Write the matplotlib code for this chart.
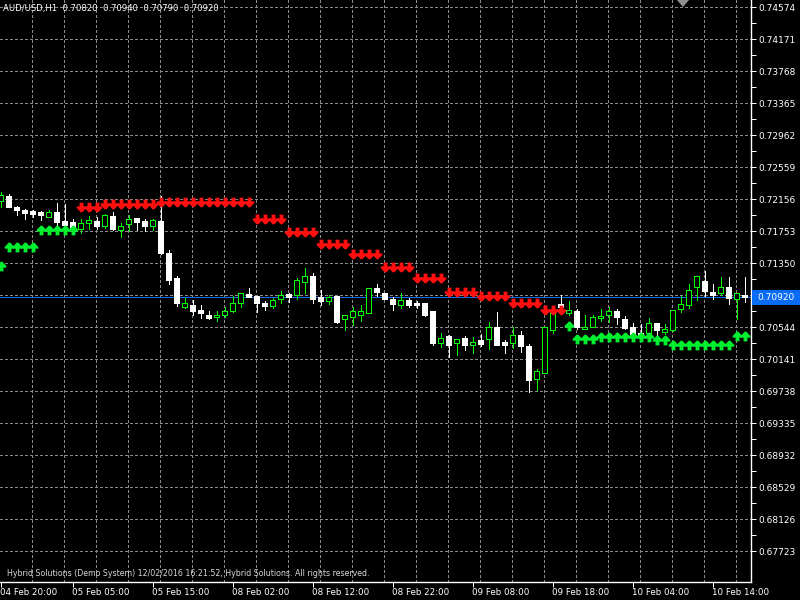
import matplotlib
matplotlib.use('Agg')
import matplotlib.pyplot as plt
from matplotlib.patches import Rectangle, Polygon
from matplotlib.path import Path
from matplotlib.transforms import blended_transform_factory

# ---------------- data ----------------
symbol_header = "AUD/USD,H1  0.70820  0.70940  0.70790  0.70920"
copyright_text = "Hybrid Solutions (Demo System) 12/02/2016 16:21:52, Hybrid Solutions. All rights reserved."
current_price = 0.70920

opens = [0.72138, 0.72198, 0.72055, 0.72021, 0.72009, 0.71996, 0.71937, 0.71996, 0.71886, 0.71870,
         0.71786, 0.71854, 0.71886, 0.71820, 0.71946, 0.71769, 0.71845, 0.71920, 0.71886, 0.71820,
         0.71879, 0.71483, 0.71165, 0.70803, 0.70821, 0.70762, 0.70703, 0.70677, 0.70695, 0.70753,
         0.70854, 0.70963, 0.70938, 0.70854, 0.70812, 0.70897, 0.70963, 0.70947, 0.71114, 0.71190,
         0.70922, 0.70879, 0.70938, 0.70645, 0.70677, 0.70703, 0.70728, 0.71039, 0.70972, 0.70904,
         0.70829, 0.70888, 0.70854, 0.70846, 0.70745, 0.70350, 0.70434, 0.70342, 0.70409, 0.70317,
         0.70384, 0.70400, 0.70552, 0.70359, 0.70342, 0.70451, 0.70308, 0.69897, 0.69972, 0.70510,
         0.70837, 0.70728, 0.70753, 0.70519, 0.70552, 0.70661, 0.70703, 0.70745, 0.70645, 0.70552,
         0.70476, 0.70476, 0.70594, 0.70485, 0.70510, 0.70778, 0.70829, 0.71048, 0.71131, 0.70989,
         0.70972, 0.71048, 0.70897, 0.70947]

highs = [0.72248, 0.72223, 0.72072, 0.72038, 0.72015, 0.72012, 0.72021, 0.72113, 0.72097, 0.71912,
         0.71912, 0.71946, 0.71937, 0.71965, 0.71996, 0.71861, 0.71962, 0.71925, 0.71912, 0.71908,
         0.72198, 0.71517, 0.71190, 0.70913, 0.70888, 0.70821, 0.70745, 0.70745, 0.70803, 0.70938,
         0.70975, 0.71039, 0.70940, 0.70879, 0.70913, 0.70997, 0.70972, 0.71165, 0.71291, 0.71224,
         0.71014, 0.70947, 0.70940, 0.70697, 0.70803, 0.70821, 0.71042, 0.71089, 0.70980, 0.70922,
         0.70972, 0.70913, 0.70879, 0.70848, 0.70747, 0.70468, 0.70451, 0.70402, 0.70434, 0.70418,
         0.70459, 0.70611, 0.70737, 0.70384, 0.70544, 0.70494, 0.70333, 0.70015, 0.70546, 0.70753,
         0.70955, 0.70879, 0.70778, 0.70703, 0.70703, 0.70778, 0.70803, 0.70770, 0.70686, 0.70594,
         0.70586, 0.70661, 0.70596, 0.70586, 0.70764, 0.70938, 0.71089, 0.71192, 0.71257, 0.71089,
         0.71182, 0.71182, 0.70975, 0.71182]

lows = [0.72059, 0.72059, 0.71962, 0.71912, 0.71929, 0.71895, 0.71935, 0.71820, 0.71830, 0.71782,
        0.71735, 0.71786, 0.71778, 0.71795, 0.71769, 0.71685, 0.71761, 0.71769, 0.71753, 0.71769,
        0.71467, 0.71089, 0.70812, 0.70787, 0.70703, 0.70661, 0.70652, 0.70627, 0.70669, 0.70737,
        0.70803, 0.70926, 0.70737, 0.70762, 0.70787, 0.70854, 0.70863, 0.70904, 0.70980, 0.70854,
        0.70829, 0.70837, 0.70602, 0.70510, 0.70569, 0.70627, 0.70720, 0.70938, 0.70897, 0.70762,
        0.70787, 0.70803, 0.70787, 0.70686, 0.70325, 0.70292, 0.70174, 0.70199, 0.70258, 0.70224,
        0.70308, 0.70275, 0.70323, 0.70224, 0.70283, 0.70233, 0.69729, 0.69754, 0.69965, 0.70468,
        0.70787, 0.70703, 0.70526, 0.70517, 0.70544, 0.70627, 0.70611, 0.70586, 0.70519, 0.70434,
        0.70426, 0.70426, 0.70426, 0.70460, 0.70501, 0.70737, 0.70787, 0.70888, 0.70938, 0.70897,
        0.70947, 0.70837, 0.70645, 0.70863]

closes = [0.72214, 0.72063, 0.72021, 0.71987, 0.71975, 0.71962, 0.71996, 0.71870, 0.71836, 0.71795,
          0.71861, 0.71895, 0.71820, 0.71962, 0.71778, 0.71820, 0.71912, 0.71870, 0.71820, 0.71895,
          0.71483, 0.71140, 0.70846, 0.70846, 0.70753, 0.70728, 0.70661, 0.70695, 0.70745, 0.70846,
          0.70972, 0.70929, 0.70854, 0.70812, 0.70888, 0.70947, 0.70929, 0.71140, 0.71190, 0.70897,
          0.70879, 0.70922, 0.70611, 0.70695, 0.70745, 0.70745, 0.71039, 0.70989, 0.70904, 0.70837,
          0.70888, 0.70829, 0.70829, 0.70703, 0.70342, 0.70409, 0.70325, 0.70400, 0.70325, 0.70359,
          0.70333, 0.70544, 0.70325, 0.70317, 0.70443, 0.70308, 0.69880, 0.69990, 0.70544, 0.70728,
          0.70800, 0.70762, 0.70552, 0.70552, 0.70677, 0.70686, 0.70745, 0.70677, 0.70535, 0.70451,
          0.70443, 0.70594, 0.70510, 0.70526, 0.70762, 0.70837, 0.71014, 0.71190, 0.71005, 0.70947,
          0.71048, 0.70913, 0.70972, 0.70920]

# indicator arrows: (first bar, last bar, level)
red_segments = [(10, 12, 0.72062), (13, 19, 0.72099), (20, 31, 0.72122), (32, 35, 0.71914),
                (36, 39, 0.71738), (40, 43, 0.71599), (44, 47, 0.71473), (48, 51, 0.71297),
                (52, 55, 0.71171), (56, 59, 0.70989), (60, 63, 0.70932), (64, 67, 0.70844),
                (68, 70, 0.70756)]
green_segments = [(0, 0, 0.71322), (1, 4, 0.71555), (5, 9, 0.71763), (71, 71, 0.70554),
                  (72, 74, 0.70393), (75, 81, 0.70418), (82, 83, 0.70384), (84, 91, 0.70317),
                  (92, 93, 0.70428)]

price_ticks = [0.74574, 0.74171, 0.73768, 0.73365, 0.72962, 0.72559, 0.72156, 0.71753, 0.71350,
               0.70947, 0.70544, 0.70141, 0.69738, 0.69335, 0.68932, 0.68529, 0.68126, 0.67723]
time_ticks = [0, 9, 19, 29, 39, 49, 59, 69, 79, 89]
time_labels = ["04 Feb 20:00", "05 Feb 05:00", "05 Feb 15:00", "08 Feb 02:00", "08 Feb 12:00",
               "08 Feb 22:00", "09 Feb 08:00", "09 Feb 18:00", "10 Feb 04:00", "10 Feb 14:00"]

# ---------------- style ----------------
BG = 'black'
FG = 'white'
BULL = '#00ff00'
BEAR = 'white'
GRID = '#8a8a8a'
RED = '#ff1010'
ARROW_GREEN = '#00f030'
TAG = '#0a6cf5'
PX = 0.72  # one pixel in points at 100 dpi

fig = plt.figure(figsize=(8, 6), dpi=100, facecolor=BG)
ax = fig.add_axes([0, 18 / 600, 751 / 800, 582 / 600], facecolor=BG)
ax.set_xlim(-0.0625, 93.8125)
ax.set_ylim(0.67336, 0.74666)

# grid
for p in price_ticks:
    ax.axhline(p, color=GRID, lw=PX, ls=(0, (2.6, 2.6)), zorder=0.5, antialiased=False)
for k in range(1, 24):
    ax.axvline(4 * k - 0.0625, color=GRID, lw=PX, ls=(0, (2.6, 2.6)), zorder=0.5,
               antialiased=False)

# current price line
ax.axhline(current_price, color=TAG, lw=PX, zorder=1, antialiased=False)

# candles
body_w = 0.55
for i, (o, h, l, c) in enumerate(zip(opens, highs, lows, closes)):
    bull = c >= o
    col = BULL if bull else BEAR
    ax.vlines(i, l, h, color=col, lw=PX, zorder=2, antialiased=False)
    bottom = min(o, c)
    height = max(abs(c - o), 0.00006)
    ax.add_patch(Rectangle((i - body_w / 2, bottom), body_w, height,
                           facecolor=BG if bull else BEAR, edgecolor=col,
                           lw=PX, zorder=3, antialiased=False))

# arrow markers (chunky down/up arrows)
down_verts = [(-0.2, 0.5), (0.2, 0.5), (0.2, 0.12), (0.5, 0.12), (0.5, -0.05), (0.08, -0.5),
              (-0.08, -0.5), (-0.5, -0.05), (-0.5, 0.12), (-0.2, 0.12), (-0.2, 0.5)]
down_path = Path(down_verts, closed=True)
up_path = Path([(x, -y) for x, y in down_verts], closed=True)

for a, b, lvl in red_segments:
    xs = list(range(a, b + 1))
    ax.plot(xs, [lvl] * len(xs), ls='none', marker=down_path, ms=7.0,
            color=RED, mew=0, zorder=4)
for a, b, lvl in green_segments:
    xs = list(range(a, b + 1))
    ax.plot(xs, [lvl] * len(xs), ls='none', marker=up_path, ms=7.0,
            color=ARROW_GREEN, mew=0, zorder=4)

# spines
for s in ['left', 'top']:
    ax.spines[s].set_visible(False)
for s in ['right', 'bottom']:
    ax.spines[s].set_color(FG)
    ax.spines[s].set_linewidth(1.0)

# price axis
ax.yaxis.tick_right()
ax.set_yticks(price_ticks)
ax.set_yticklabels([f"{p:.5f}" for p in price_ticks])
mids = [(price_ticks[j] + price_ticks[j + 1]) / 2 for j in range(len(price_ticks) - 1)]
ax.set_yticks(mids, minor=True)
ax.tick_params(axis='y', which='major', colors=FG, length=3.5, width=PX, pad=1.5,
               labelsize=6.5, labelcolor=FG)
ax.tick_params(axis='y', which='minor', colors=FG, length=3.5, width=PX)

# time axis
ax.set_xticks(time_ticks)
ax.set_xticklabels(time_labels)
for t in ax.get_xticklabels():
    t.set_ha('left')
ax.tick_params(axis='x', colors=FG, length=3.5, width=PX, pad=1.0,
               labelsize=6.3, labelcolor=FG)

# current price tag
bt = blended_transform_factory(ax.transAxes, ax.transData)
half = 7.5 * (0.74666 - 0.67336) / 582
ax.add_patch(Rectangle((1.0015, current_price - half), 49 / 751, 2 * half,
                       transform=bt, facecolor=TAG, edgecolor='none',
                       clip_on=False, zorder=10))
ax.text(1.0 + 6 / 751, current_price, f"{current_price:.5f}", transform=bt,
        color=FG, fontsize=6.5, va='center', ha='left', zorder=11, clip_on=False)

# texts
fig.text(3 / 800, 1 - 8 / 600, symbol_header, color=FG, fontsize=6.1, va='center', ha='left')
fig.text(7 / 800, 1 - 573 / 600, copyright_text, color='#d8d8d8', fontsize=5.7, va='center', ha='left')

# chart shift marker
fig.patches.append(Polygon([(677 / 800, 1.0), (689 / 800, 1.0), (683 / 800, 1 - 7 / 600)],
                           closed=True, transform=fig.transFigure, facecolor='#909090',
                           edgecolor='none'))

fig.savefig('out.png', dpi=100, facecolor=BG)
